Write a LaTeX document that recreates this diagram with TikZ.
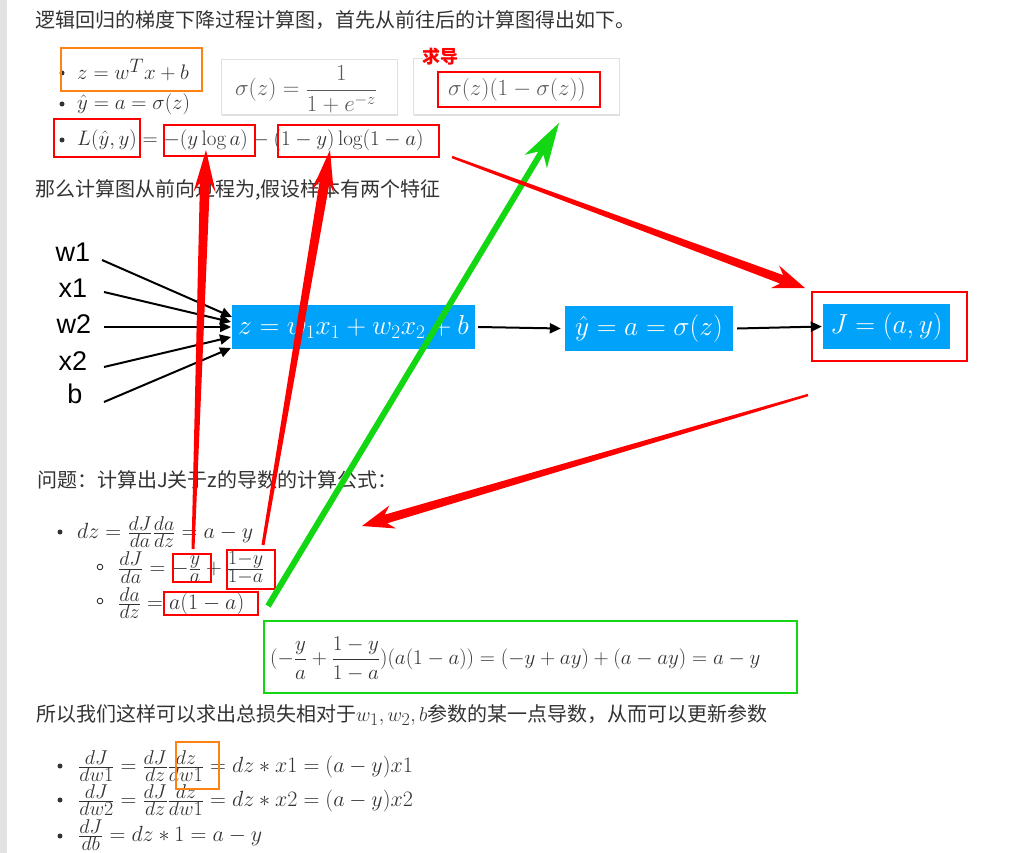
\RequirePackage{fix-cm}
\documentclass[tikz,border=0pt]{standalone}
\usepackage{fontspec}
\newfontfamily\cjk{Noto Sans CJK SC}
\newfontfamily\helv{Liberation Sans}
\usetikzlibrary{calc,shadows,arrows.meta}
\DeclareMathSizes{21}{21}{19.5}{14}
\DeclareMathSizes{22}{22}{20}{14.5}
\DeclareMathSizes{20}{20}{18}{13}
\definecolor{txt}{RGB}{51,51,51}
\definecolor{bluebox}{RGB}{0,162,250}
\definecolor{annred}{RGB}{255,0,0}
\definecolor{anngreen}{RGB}{20,215,20}
\definecolor{annorange}{RGB}{255,130,20}
\definecolor{stripgray}{RGB}{226,226,226}
\definecolor{imgtxt}{RGB}{90,90,90}
\newcommand{\annarrow}[7]{%
  \coordinate (aa) at (#1);
  \coordinate (ab) at (#2);
  \coordinate (am) at ($(ab)!#7pt!(aa)$);
  \coordinate (an) at ($(ab)!0.78*#7pt!(aa)$);
  \fill[#3] ($(aa)!#4pt!90:(ab)$) -- ($(an)!#5pt!90:(ab)$) -- ($(am)!#6pt!90:(ab)$) -- (ab)
    -- ($(am)!#6pt!-90:(ab)$) -- ($(an)!#5pt!-90:(ab)$) -- ($(aa)!#4pt!-90:(ab)$) -- cycle;
}
\tikzset{
  cjktxt/.style={font=\cjk\fontsize{20}{24}\selectfont, text=txt, inner sep=0pt, anchor=west},
  mtxt/.style={font=\fontsize{21}{25}\selectfont, text=txt, inner sep=0pt, anchor=west},
  ftxt/.style={font=\fontsize{22}{26}\selectfont, text=txt, inner sep=0pt, anchor=west},
  inlab/.style={font=\helv\fontsize{27}{30}\selectfont, text=black, inner sep=0pt},
  bluenode/.style={fill=bluebox, text=white, font=\fontsize{27.5}{30}\selectfont, inner sep=0pt},
  redbox/.style={draw=annred, line width=1.8pt},
  orangebox/.style={draw=annorange, line width=2pt},
  greenbox/.style={draw=anngreen, line width=2pt},
  imgbox/.style={draw=black!12, fill=white, drop shadow={opacity=0.25, shadow xshift=1pt, shadow yshift=-2pt}, inner sep=0pt},
  flow/.style={line width=2pt, -{Triangle[length=11pt,width=10pt]}},
  bullet/.style={fill=txt},
  hollow/.style={draw=txt, line width=0.9pt},
}
\begin{document}
\begin{tikzpicture}[x=1pt,y=-1pt]
\useasboundingbox (0,0) rectangle (1035,853);
\fill[white] (0,0) rectangle (1035,853);
\fill[stripgray] (0,0) rectangle (7,853);

% --- top text ---
\node[cjktxt] (title) at (35,20) {逻辑回归的梯度下降过程计算图，首先从前往后的计算图得出如下。};

\fill[bullet] (62,73) circle[radius=2.5];
\fill[bullet] (62,104) circle[radius=2.5];
\fill[bullet] (62,140) circle[radius=2.5];
\node[mtxt] (f1) at (77,70) {$z = w^T x + b$};
\node[mtxt] (f2) at (77,104) {$\hat y = a = \sigma(z)$};
\node[mtxt] (f3) at (77,140) {$L(\hat y, y) = -(y\log a) - (1-y)\log(1-a)$};
\draw[orangebox] (61,48) rectangle (202,91);
\draw[redbox] (54,119) rectangle (140,157);
\draw[redbox] (164,125) rectangle (255,156);
\draw[redbox] (278,125) rectangle (439,157);

% image boxes
\node[imgbox, minimum width=176pt, minimum height=55pt] (img1) at (309,87) {};
\node[font=\fontsize{23}{26}\selectfont, text=imgtxt, inner sep=0pt] (sig) at (306,89) {$\displaystyle \sigma(z) = \frac{1}{1+e^{-z}}$};
\node[imgbox, minimum width=206pt, minimum height=56pt] (img2) at (516,86) {};
\draw[redbox] (438,72) rectangle (600,107);
\node[font=\fontsize{23}{26}\selectfont, text=imgtxt, inner sep=0pt] (dsig) at (517,90) {$\sigma(z)(1-\sigma(z))$};
\node[font=\cjk\bfseries\fontsize{18}{20}\selectfont, text=annred, inner sep=0pt] (qiudao) at (440,57) {求导};

% --- graph ---
\node[cjktxt] (t2) at (35,190) {那么计算图从前向过程为,假设样本有两个特征};

\node[inlab] (lw1) at (73,252) {w1};
\node[inlab] (lx1) at (73,288) {x1};
\node[inlab] (lw2) at (74,324) {w2};
\node[inlab] (lx2) at (73,361) {x2};
\node[inlab] (lb) at (75,394) {b};

\node[bluenode, minimum width=243pt, minimum height=44pt] (zbox) at (353.5,327) {$z = w_1x_1 + w_2x_2 + b$};
\node[bluenode, minimum width=168pt, minimum height=45pt] (ybox) at (649,328.5) {$\hat y = a = \sigma(z)$};
\node[bluenode, minimum width=127pt, minimum height=45pt] (jbox) at (886.5,326.5) {$J = (a, y)$};
\draw[redbox] (812,292) rectangle (967,361);

\coordinate (s1) at (102,260); \coordinate (e1) at (232,317);
\coordinate (s2) at (104,292); \coordinate (e2) at (231,322);
\coordinate (s3) at (104,327); \coordinate (e3) at (231,327);
\coordinate (s4) at (104,367); \coordinate (e4) at (231,337);
\coordinate (s5) at (104,402); \coordinate (e5) at (231,348);
\draw[flow] (s1) -- (e1);
\draw[flow] (s2) -- (e2);
\draw[flow] (s3) -- (e3);
\draw[flow] (s4) -- (e4);
\draw[flow] (s5) -- (e5);
\draw[flow] ([xshift=3pt]zbox.east) -- ([xshift=-4pt]ybox.west);
\draw[flow] ([xshift=4pt]ybox.east) -- ([xshift=-1pt]jbox.west);

% --- question ---
\node[cjktxt] (t3) at (37,480) {问题：计算出J关于z的导数的计算公式：};
\fill[bullet] (60,532) circle[radius=2.5];
\node[ftxt] (d1) at (77,532) {$dz = \frac{dJ}{da}\frac{da}{dz} = a - y$};
\draw[hollow] (100,567) circle[radius=2.8];
\draw[hollow] (100,601) circle[radius=2.8];
\node[ftxt] (d2) at (118,568) {$\frac{dJ}{da} = -\frac{y}{a} + \frac{1-y}{1-a}$};
\node[ftxt] (d3) at (118,603) {$\frac{da}{dz} = a(1-a)$};
\draw[redbox] (173,554) rectangle (211,582);
\draw[redbox] (227,550) rectangle (275,589);
\draw[redbox] (164,592) rectangle (258,615);

\draw[greenbox] (264,621) rectangle (797,693);
\node[mtxt] (g) at (270,659) {$\displaystyle (-\frac{y}{a} + \frac{1-y}{1-a})(a(1-a)) = (-y+ay) + (a-ay) = a-y$};

% --- bottom ---
\node[cjktxt] (t4) at (36,715) {所以我们这样可以求出总损失相对于$w_1, w_2, b$参数的某一点导数，从而可以更新参数};
\fill[bullet] (60,766) circle[radius=2.5];
\fill[bullet] (60,800) circle[radius=2.5];
\fill[bullet] (60,836) circle[radius=2.5];
\node[ftxt] (b1) at (78,766) {$\frac{dJ}{dw1} = \frac{dJ}{dz}\frac{dz}{dw1} = dz * x1 = (a-y)x1$};
\node[ftxt] (b2) at (78,800) {$\frac{dJ}{dw2} = \frac{dJ}{dz}\frac{dz}{dw1} = dz * x2 = (a-y)x2$};
\node[ftxt] (b3) at (78,835) {$\frac{dJ}{db} = dz * 1 = a-y$};
\draw[orangebox] (176,742) rectangle (219,789);

% --- annotation arrows ---
\coordinate (r1s) at (193,549); \coordinate (r1e) at (206,150);
\coordinate (r2s) at (263,545); \coordinate (r2e) at (330,150);
\coordinate (gs) at (268,606); \coordinate (ge) at (559,123);
\coordinate (r3s) at (452,157); \coordinate (r3e) at (805,288);
\coordinate (r4s) at (808,395); \coordinate (r4e) at (362,526);
\annarrow{r1s}{r1e}{annred}{1.5}{5}{11}{42}
\annarrow{r2s}{r2e}{annred}{1.5}{5}{11}{42}
\annarrow{gs}{ge}{anngreen}{3}{3}{13}{45}
\annarrow{r3s}{r3e}{annred}{1.2}{4.5}{12}{32}
\annarrow{r4s}{r4e}{annred}{1.2}{4.5}{12}{32}
\end{tikzpicture}
\end{document}
